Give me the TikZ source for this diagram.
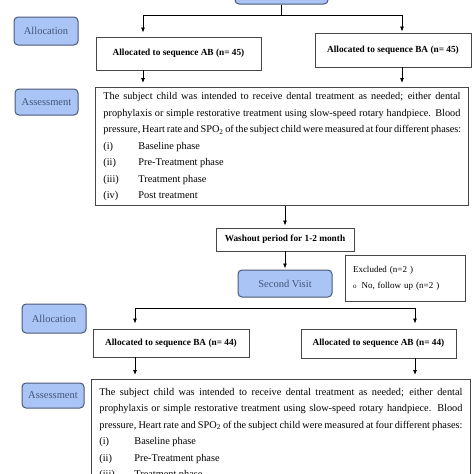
\documentclass[tikz,border=0pt]{standalone}
\usepackage{fontspec}
\setmainfont{Liberation Serif}
\usetikzlibrary{arrows.meta, calc}
\definecolor{labelblue}{RGB}{169, 196, 245}
\definecolor{labeledge}{RGB}{74, 88, 120}
\definecolor{labeltext}{RGB}{68, 85, 122}
\definecolor{boxedge}{RGB}{70, 70, 70}

\tikzset{
    phase/.style={fill=labelblue, draw=labeledge, line width=1pt, rounded corners=4pt,
          text=labeltext, inner sep=0pt, font=\fontsize{10.5}{12}\selectfont},
    seqbox/.style={draw=boxedge, line width=0.9pt, inner sep=0pt,
          font=\fontsize{9.3}{11}\selectfont\bfseries},
    taskbox/.style={draw=boxedge, line width=0.9pt, inner xsep=8pt, inner ysep=5pt,
          font=\fontsize{10.3}{16.5}\selectfont, align=left, anchor=north west},
    flow/.style={-{Latex[length=5pt, width=4pt]}, line width=0.8pt},
    link/.style={line width=0.8pt}
}

\newcommand{\assesslines}{%
    \spaceskip=0pt \xspaceskip=0pt
    \makebox[\linewidth][s]{The subject child was intended to receive dental treatment as needed; either dental}\\
    \makebox[\linewidth][s]{prophylaxis or simple restorative treatment using slow-speed rotary handpiece. Blood}\\
    \makebox[\linewidth][s]{pressure, Heart rate and SPO\textsubscript{2} of the subject child were measured at four different phases:}\\
    \makebox[35pt][l]{(i)}Baseline phase\\
    \makebox[35pt][l]{(ii)}Pre-Treatment phase\\
    \makebox[35pt][l]{(iii)}Treatment phase\\
    \makebox[35pt][l]{(iv)}Post treatment}

\begin{document}
\begin{tikzpicture}[x=1pt, y=-1pt]
    \useasboundingbox (0,0) rectangle (474,474);
    \clip (0,0) rectangle (474,474);

    % first visit
    \node[phase, minimum width=93pt, minimum height=28pt] (visit1) at (281.5,-10) {};
    \coordinate (splitL1) at (143,15);
    \coordinate (splitR1) at (402,15);

    \node[phase, minimum width=64pt, minimum height=28pt] (alloc1) at (46,31) {Allocation};
    \node[seqbox, minimum width=165pt, minimum height=33pt] (ab1) at (178.5,53.5) {Allocated to sequence AB (n= 45)};
    \node[seqbox, minimum width=156pt, minimum height=34pt] (ba1) at (393,50) {Allocated to sequence BA (n= 45)};

    \node[phase, minimum width=63pt, minimum height=26pt] (assess1) at (46.5,102) {Assessment};
    \node[taskbox, text width=357pt] (task1) at (95,87) {\assesslines};

    % washout and second visit
    \node[seqbox, minimum width=138pt, minimum height=23pt] (wash) at (285,239.5) {Washout period for 1-2 month};
    \node[phase, minimum width=94pt, minimum height=27pt] (visit2) at (285,283.5) {Second Visit};
    \node[draw=boxedge, line width=0.9pt, minimum width=120pt, minimum height=46pt, inner xsep=8pt,
          text width=104pt, align=left, font=\fontsize{9}{16}\selectfont] (excl) at (405,278)
          {Excluded (n=2 )\\{\fontsize{7}{8}\selectfont o}\hspace{5pt}No, follow up (n=2 )};

    \coordinate (splitL2) at (135,308);
    \coordinate (splitR2) at (415,308);

    \node[phase, minimum width=64pt, minimum height=29pt] (alloc2) at (54,318.5) {Allocation};
    \node[seqbox, minimum width=156pt, minimum height=28pt] (ba2) at (171,343) {Allocated to sequence BA (n= 44)};
    \node[seqbox, minimum width=155pt, minimum height=29pt] (ab2) at (378.5,343.5) {Allocated to sequence AB (n= 44)};

    \node[phase, minimum width=62pt, minimum height=25pt] (assess2) at (53,395.5) {Assessment};
    \node[taskbox, text width=363pt, inner ysep=8.5pt] (task2) at (91,379) {\assesslines};

    % connectors
    \draw[link] (visit1.south) |- (splitL1);
    \draw[link] (visit1.south) |- (splitR1);
    \draw[flow, shorten >=4pt] (splitL1) -- (splitL1 |- ab1.north);
    \draw[flow, shorten >=1pt] (splitR1) -- (splitR1 |- ba1.north);
    \draw[flow, shorten >=4pt] (ab1.south -| splitL1) -- (splitL1 |- task1.north);
    \draw[flow, shorten >=4pt] (ba1.south -| splitR1) -- (splitR1 |- task1.north);
    \draw[flow, shorten >=2pt] (task1.south -| wash.north) -- (wash.north);
    \draw[flow, shorten >=1pt] (wash) -- (visit2);

    \draw[link] (splitL2) -- (splitR2);
    \draw[flow, shorten >=5pt] (splitL2) -- (splitL2 |- ba2.north);
    \draw[flow, shorten >=5pt] (splitR2) -- (splitR2 |- ab2.north);
    \draw[flow, shorten >=4pt] (ba2.south -| splitL2) -- (splitL2 |- task2.north);
    \draw[flow, shorten >=4pt] (ab2.south -| splitR2) -- (splitR2 |- task2.north);
\end{tikzpicture}
\end{document}
